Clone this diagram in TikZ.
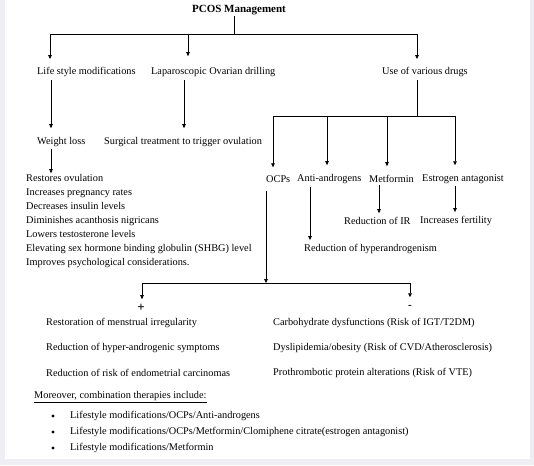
\documentclass[tikz,border=0pt]{standalone}
\usepackage{fontspec}
\setmainfont{Liberation Serif}
\usetikzlibrary{arrows.meta}
\definecolor{bgout}{HTML}{EEEEF4}
\begin{document}
\begin{tikzpicture}[x=1pt,y=-1pt,
  txt/.style={inner sep=1pt,anchor=west,font=\fontsize{10.3}{14}\selectfont},
  ln/.style={line width=0.7pt,black},
  arr/.style={ln,-{Triangle[length=4pt,width=3.6pt]}}]
\fill[bgout] (0,0) rectangle (534,465);
\fill[white] (5,0) rectangle (530,459);
\useasboundingbox (0,0) rectangle (534,465);
% texts
\node[inner sep=1pt,font=\fontsize{11}{12}\selectfont\bfseries] (title) at (239,10) {PCOS Management};
\node[txt] (ls) at (36,72) {Life style modifications};
\node[txt] (lap) at (150,72) {Laparoscopic Ovarian drilling};
\node[txt] (drugs) at (381,72) {Use of various drugs};
\node[txt] (wl) at (36,142) {Weight loss};
\node[txt] (surg) at (103,142) {Surgical treatment to trigger ovulation};
\node[txt,align=left] (eff) at (25,221) {Restores ovulation\\Increases pregnancy rates\\Decreases insulin levels\\Diminishes acanthosis nigricans\\Lowers testosterone levels\\Elevating sex hormone binding globulin (SHBG) level\\Improves psychological considerations.};
\node[txt] (ocp) at (265,179) {OCPs};
\node[txt] (anti) at (296,179) {Anti-androgens};
\node[txt] (met) at (368,179) {Metformin};
\node[txt] (est) at (421,179) {Estrogen antagonist};
\node[txt] (ir) at (343,221) {Reduction of IR};
\node[txt] (fert) at (419,221) {Increases fertility};
\node[txt] (hyp) at (303,249) {Reduction of hyperandrogenism};
\node[inner sep=1pt,font=\fontsize{13}{13}\selectfont\bfseries] (plus) at (141,308) {+};
\node[inner sep=1pt,font=\fontsize{11}{12}\selectfont\bfseries] (minus) at (410,307) {-};
\node[txt] (p1) at (45,323) {Restoration of menstrual irregularity};
\node[txt] (p2) at (45,348) {Reduction of hyper-androgenic symptoms};
\node[txt] (p3) at (45,373) {Reduction of risk of endometrial carcinomas};
\node[txt] (m1) at (272,323) {Carbohydrate dysfunctions (Risk of IGT/T2DM)};
\node[txt] (m2) at (272,348) {Dyslipidemia/obesity (Risk of CVD/Atherosclerosis)};
\node[txt] (m3) at (272,373) {Prothrombotic protein alterations (Risk of VTE)};
\node[txt] (more) at (33,397) {\underline{Moreover, combination therapies include:}};
\node[txt] (b1) at (69,416) {Lifestyle modifications/OCPs/Anti-androgens};
\node[txt] (b2) at (69,432) {Lifestyle modifications/OCPs/Metformin/Clomiphene citrate(estrogen antagonist)};
\node[txt] (b3) at (69,448) {Lifestyle modifications/Metformin};
\foreach \b in {b1,b2,b3} \fill ([xshift=-16pt]\b.west) circle (1.6pt);
% junctions
\coordinate (j1) at (234,34);
\coordinate (j2) at (417,116);
\coordinate (j3) at (266,283);
% connectors
\draw[ln] ([xshift=-5pt]title.south) -- (j1);
\draw[arr] (j1) -| ([xshift=14pt,yshift=7pt]ls.north west);
\draw[arr] (j1) -| ([xshift=38pt,yshift=10pt]lap.north west);
\draw[arr] (j1) -| ([xshift=36pt,yshift=7pt]drugs.north west);
\draw[arr] ([xshift=15pt,yshift=-2pt]ls.south west) -- ([xshift=15pt,yshift=8pt]wl.north west);
\draw[arr] ([xshift=34pt,yshift=-2pt]lap.south west) -- ([xshift=81pt,yshift=8pt]surg.north west);
\draw[ln] ([xshift=36pt,yshift=-2pt]drugs.south west) -- (j2);
\draw[arr] (j2) -| ([xshift=8pt,yshift=7pt]ocp.north west);
\draw[arr] (j2) -| ([xshift=31pt,yshift=8pt]anti.north west);
\draw[arr] (j2) -| ([xshift=19pt,yshift=8pt]met.north west);
\draw[arr] (j2) -| ([xshift=34pt,yshift=8pt]est.north west);
\draw[arr] ([xshift=15pt,yshift=-1pt]wl.south west) -- ([xshift=26pt,yshift=0pt]eff.north west);
\draw[arr] ([xshift=11pt,yshift=-1pt]met.south west) -- ([xshift=36pt,yshift=3pt]ir.north west);
\draw[arr] ([xshift=34pt,yshift=-1pt]est.south west) -- ([xshift=36pt,yshift=3pt]fert.north west);
\draw[arr] ([xshift=14pt,yshift=-2pt]anti.south west) -- ([xshift=7pt,yshift=3pt]hyp.north west);
\draw[arr] ([xshift=1pt,yshift=-7pt]ocp.south west) -- (j3);
\draw[arr] (j3) -| ([xshift=1pt,yshift=4pt]plus.north);
\draw[arr] (j3) -| ([yshift=7pt]minus.north);
\end{tikzpicture}
\end{document}
